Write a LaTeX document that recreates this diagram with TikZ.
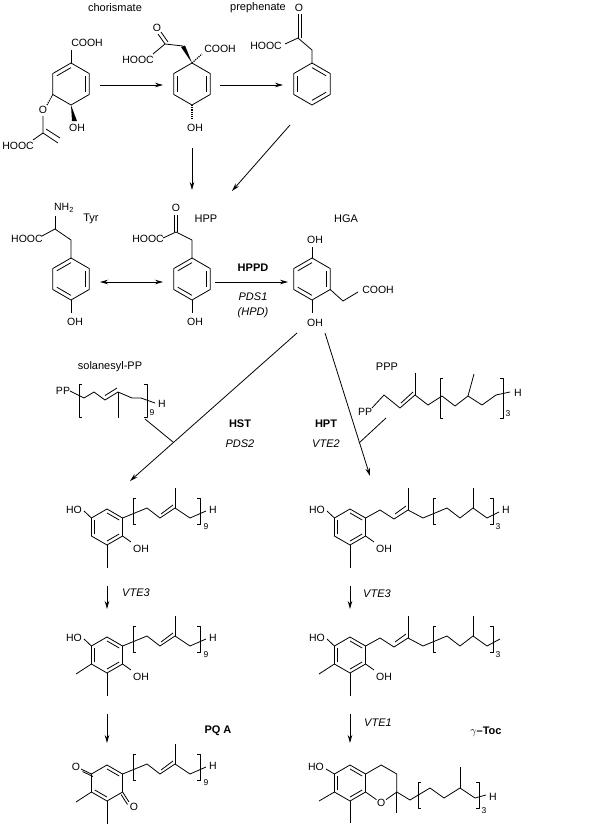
\documentclass[tikz,border=0pt]{standalone}
\usepackage{fontspec}
\setmainfont{Liberation Sans}
\usetikzlibrary{calc,arrows.meta}
\newcommand\ring[4]{%
 \coordinate (#1c) at (#2,#3);
 \coordinate (#1t) at (#2,#3-#4);
 \coordinate (#1b) at (#2,#3+#4);
 \coordinate (#1ur) at (#2+0.866*#4,#3-0.5*#4);
 \coordinate (#1lr) at (#2+0.866*#4,#3+0.5*#4);
 \coordinate (#1ul) at (#2-0.866*#4,#3-0.5*#4);
 \coordinate (#1ll) at (#2-0.866*#4,#3+0.5*#4);
 \draw[bond] (#1t)--(#1ur)--(#1lr)--(#1b)--(#1ll)--(#1ul)--cycle;}
\newcommand\inb[3]{\draw[bond] ($(#1)!0.22!(#3)$) -- ($(#2)!0.22!(#3)$);}
\newcommand\lbr[3]{\draw[bond] (#1+3,#2) -- (#1,#2) -- (#1,#3) -- (#1+3,#3);}
\newcommand\rbr[3]{\draw[bond] (#1-3,#2) -- (#1,#2) -- (#1,#3) -- (#1-3,#3);}
\begin{document}
\begin{tikzpicture}[x=1pt,y=-1pt,
  bond/.style={line width=0.8pt,line join=round},
  arr/.style={line width=0.8pt,-{Stealth[length=8pt,width=4.5pt]}},
  atom/.style={font=\fontsize{10.5}{12}\selectfont,inner sep=0.5pt},
  lab/.style={font=\fontsize{11}{13}\selectfont,inner sep=1pt},
  sub/.style={font=\fontsize{8.5}{9}\selectfont,inner sep=0pt}]
\useasboundingbox (0,0) rectangle (609,828);
% labels
\node[lab] (lchor) at (115,8) {chorismate};
\node[lab] (lpreph) at (258,8) {prephenate};
% chorismate
\ring{A}{71}{84}{21}
\inb{Aur}{Alr}{Ac}\inb{At}{Aul}{Ac}
\node[atom] (cA) at (87,43) {COOH};
\draw[bond] (At)--(71,50);
\draw[line width=1.2pt,densely dotted] (All)--(47,105);
\node[atom] (oA) at (43,110) {O};
\draw[bond] (43,116)--(43,133)--(58,143);
\draw[bond] (46,129)--(60,138);
\node[atom] (hA) at (18,146) {HOOC};
\draw[bond] (43,133)--(33,140);
\fill (Ab)--(72,121)--(77,121)--cycle;
\node[atom] (ohA) at (77,128) {OH};
\draw[arr] (100,85)--(163,85);
% prephenate
\ring{B}{192}{84}{21}
\inb{Bul}{Bll}{Bc}\inb{Bur}{Blr}{Bc}
\fill (Bt)--(181,47)--(185,45.5)--cycle;
\draw[bond] (183,46)--(165,44);
\draw[bond] (165,44)--(158,34);\draw[bond] (168,42)--(161,32);
\node[atom] (oB) at (157,28) {O};
\draw[bond] (165,44)--(153,54);
\node[atom] (hB) at (138,60) {HOOC};
\draw[line width=1.2pt,densely dotted] (Bt)--(202,54);
\node[atom] (cB) at (220,49) {COOH};
\draw[line width=1.2pt,densely dotted] (Bb)--(192,120);
\node[atom] (ohB) at (195,128) {OH};
\draw[arr] (220,85)--(283,85);
% phenylpyruvate
\ring{C}{312}{84}{21}
\inb{Ct}{Cur}{Cc}\inb{Clr}{Cb}{Cc}\inb{Cll}{Cul}{Cc}
\draw[bond] (Ct)--(312,50)--(298,38)--(285,44);
\draw[bond] (298,38)--(298,14);\draw[bond] (301,38)--(301,14);
\node[atom] (oC) at (299,8) {O};
\node[atom] (hC) at (266,46) {HOOC};
\draw[arr] (192,148)--(192,190);
\draw[arr] (290,125)--(232,191);
% Tyr
\ring{D}{71}{279}{21}
\inb{Dur}{Dlr}{Dc}\inb{Db}{Dll}{Dc}\inb{Dul}{Dt}{Dc}
\draw[bond] (Dt)--(71,240)--(55,229)--(42,236);
\draw[bond] (55,229)--(55,216);
\node[atom] (nD) at (64,208) {NH\textsubscript{2}};
\node[lab] (lTyr) at (91,219) {Tyr};
\node[atom] (hD) at (27,239) {HOOC};
\draw[bond] (Db)--(71,313);
\node[atom] (ohD) at (75,322) {OH};
\draw[line width=0.8pt,{Stealth[length=8pt,width=4.5pt]}-{Stealth[length=8pt,width=4.5pt]}] (100,282)--(163,282);
% HPP
\ring{E}{192}{279}{21}
\inb{Eur}{Elr}{Ec}\inb{Eb}{Ell}{Ec}\inb{Eul}{Et}{Ec}
\draw[bond] (Et)--(192,240)--(176,232)--(163,238);
\draw[bond] (174.5,232)--(174.5,215);\draw[bond] (177.5,232)--(177.5,215);
\node[atom] (oE) at (176,208) {O};
\node[atom] (hE) at (148,239) {HOOC};
\node[lab] (lHPP) at (206,219) {HPP};
\draw[bond] (Eb)--(192,313);
\node[atom] (ohE) at (195,322) {OH};
\draw[arr] (215,282)--(288,282);
\node[lab] (lHPPD) at (253,268) {\textbf{HPPD}};
\node[lab] (lPDS1) at (253,297) {\textit{PDS1}};
\node[lab] (lHPD) at (253,313) {\textit{(HPD)}};
% HGA
\ring{F}{312}{279}{21}
\inb{Fur}{Flr}{Fc}\inb{Fb}{Fll}{Fc}\inb{Ful}{Ft}{Fc}
\node[lab] (lHGA) at (346,219) {HGA};
\draw[bond] (Ft)--(312,247);
\node[atom] (ohF1) at (315,240) {OH};
\draw[bond] (Fb)--(312,313);
\node[atom] (ohF2) at (315,323) {OH};
\draw[bond] (Flr)--(343,301)--(358,292);
\node[atom] (cF) at (378,290) {COOH};
% branching
\draw[arr] (297,333)--(130,481);
\draw[arr] (325,333)--(370,476);
\draw[bond] (145,419)--(173,442);
\draw[bond] (386,418)--(359,443);
\node[lab] (lHST) at (240,424) {\textbf{HST}};
\node[lab] (lPDS2) at (240,444) {\textit{PDS2}};
\node[lab] (lHPT) at (326,424) {\textbf{HPT}};
\node[lab] (lVTE2) at (326,444) {\textit{VTE2}};
% solanesyl-PP
\node[lab] (lsol) at (110,367) {solanesyl-PP};
\node[atom] (ppS) at (63,391) {PP};
\draw[bond] (70,391)--(84,398)--(94,392)--(105,400)--(118,392)--(132,398)--(141,398);
\draw[bond] (105,395.5)--(117,388);
\draw[bond] (118,392)--(118,418);
\lbr{79}{384}{417}\rbr{147}{384}{417}
\node[sub] (sS) at (152,413) {9};
\draw[bond] (141,398)--(155,403);
\node[atom] (hS) at (162,404) {H};
% PPP
\node[lab] (lPPP) at (387,367) {PPP};
\node[atom] (ppP) at (365,412) {PP};
\draw[bond] (372,408)--(384,395)--(400,408)--(415,395)--(428,405)--(442,396)--(455,406)--(468,396)--(482,405)--(496,395)--(510,392);
\draw[bond] (401,403)--(413,392);
\draw[bond] (415,395)--(415,373);
\draw[bond] (468,396)--(474,374);
\lbr{440}{378}{418}\rbr{503}{378}{418}
\node[sub] (sP) at (508,414) {3};
\node[atom] (hP) at (518,393) {H};
% ---------- left column ----------
\ring{G}{107}{527}{18}
\inb{Gt}{Gur}{Gc}\inb{Glr}{Gb}{Gc}\inb{Gll}{Gul}{Gc}
\draw[bond] (Gul)--(84,511);\node[atom] (hoG) at (74,510) {HO};
\draw[bond] (Glr)--(131,542);\node[atom] (ohG) at (141,549) {OH};
\draw[bond] (Gb)--(107,568);
\draw[bond] (Gur)--(147,508)--(160,518)--(175,508)--(190,518)--(206,511);
\draw[bond] (161,514)--(173,505);\draw[bond] (175,508)--(175,488);
\lbr{133}{498}{524}\rbr{200}{498}{524}
\node[sub] (sG) at (206,527) {9};\node[atom] (hG) at (213,510) {H};
\draw[arr] (107,586)--(107,609);
\node[lab] (lVTE3a) at (136,593) {\textit{VTE3}};
%
\ring{M}{107}{655}{18}
\inb{Mt}{Mur}{Mc}\inb{Mlr}{Mb}{Mc}\inb{Mll}{Mul}{Mc}
\draw[bond] (Mul)--(84,639);\node[atom] (hoM) at (74,638) {HO};
\draw[bond] (Mlr)--(131,670);\node[atom] (ohM) at (141,677) {OH};
\draw[bond] (Mb)--(107,696);\draw[bond] (Mll)--(76,674);
\draw[bond] (Mur)--(147,636)--(160,646)--(175,636)--(190,646)--(206,639);
\draw[bond] (161,642)--(173,633);\draw[bond] (175,636)--(175,616);
\lbr{133}{626}{652}\rbr{200}{626}{652}
\node[sub] (sM) at (206,655) {9};\node[atom] (hM) at (213,638) {H};
\draw[arr] (107,714)--(107,743);
\node[lab] (lPQA) at (218,731) {\textbf{PQ A}};
%
\ring{Q}{107}{783}{18}
\inb{Qt}{Qur}{Qc}\inb{Qll}{Qb}{Qc}
\draw[bond] (Qul)--(81,769);\draw[bond] ($(Qul)+(1.5,2.5)$)--(82.5,771.5);
\node[atom] (oQ1) at (76,767) {O};
\draw[bond] (Qlr)--(129,802);\draw[bond] ($(Qlr)+(-1.5,2.5)$)--(127.5,804.5);
\node[atom] (oQ2) at (134,807) {O};
\draw[bond] (Qb)--(107,824);\draw[bond] (Qll)--(76,802);
\draw[bond] (Qur)--(147,764)--(160,774)--(175,764)--(190,774)--(206,767);
\draw[bond] (161,770)--(173,761);\draw[bond] (175,764)--(175,744);
\lbr{133}{754}{780}\rbr{200}{754}{780}
\node[sub] (sQ) at (206,783) {9};\node[atom] (hQ) at (213,766) {H};
% ---------- right column ----------
\ring{H}{350}{527}{18}
\inb{Ht}{Hur}{Hc}\inb{Hlr}{Hb}{Hc}\inb{Hll}{Hul}{Hc}
\draw[bond] (Hul)--(327,511);\node[atom] (hoH) at (317,510) {HO};
\draw[bond] (Hlr)--(374,542);\node[atom] (ohH) at (384,549) {OH};
\draw[bond] (Hb)--(350,568);
\draw[bond] (Hur)--(380,510)--(394,519)--(408,510)--(423,518)--(447,508)--(460,518)--(473,508)--(487,518)--(499,512);
\draw[bond] (395,514)--(406,506);\draw[bond] (408,510)--(408,488);\draw[bond] (473,508)--(473,488);
\lbr{433}{498}{524}\rbr{493}{498}{524}
\node[sub] (sH) at (498,527) {3};\node[atom] (hH) at (506,510) {H};
\draw[arr] (350,586)--(350,609);
\node[lab] (lVTE3b) at (377,594) {\textit{VTE3}};
%
\ring{N}{350}{655}{18}
\inb{Nt}{Nur}{Nc}\inb{Nlr}{Nb}{Nc}\inb{Nll}{Nul}{Nc}
\draw[bond] (Nul)--(327,639);\node[atom] (hoN) at (317,638) {HO};
\draw[bond] (Nlr)--(374,670);\node[atom] (ohN) at (384,677) {OH};
\draw[bond] (Nb)--(350,696);\draw[bond] (Nll)--(319,674);
\draw[bond] (Nur)--(380,638)--(394,647)--(408,638)--(423,646)--(447,636)--(460,646)--(473,636)--(487,646)--(500,639);
\draw[bond] (395,642)--(406,634);\draw[bond] (408,638)--(408,616);\draw[bond] (473,636)--(473,616);
\lbr{433}{626}{652}\rbr{493}{626}{652}
\node[sub] (sN) at (498,655) {3};
\draw[arr] (350,714)--(350,743);
\node[lab] (lVTE1) at (378,723) {\textit{VTE1}};
\node[lab] (lToc) at (486,732) {$\gamma$\textbf{--Toc}};
% tocopherol
\ring{J}{350}{783}{18}
\inb{Jt}{Jur}{Jc}\inb{Jlr}{Jb}{Jc}\inb{Jll}{Jul}{Jc}
\coordinate (Kt) at (381.2,765);\coordinate (Kur) at (396.8,774);\coordinate (Klr) at (396.8,792);
\node[atom] (oK) at (381.2,803) {O};
\draw[bond] (Jur)--(Kt)--(Kur)--(Klr)--(oK)--(Jlr);
\draw[bond] (Jul)--(326,769);\node[atom] (hoJ) at (316,767) {HO};
\draw[bond] (Jll)--(319,801);\draw[bond] (Jb)--(350,823);
\draw[bond] (Klr)--(396.8,813);
\draw[bond] (Klr)--(410,800)--(430,788)--(444,798)--(460,788)--(475,798)--(486,795);
\draw[bond] (460,788)--(460,767);
\lbr{418}{782}{808}\rbr{479}{782}{808}
\node[sub] (sJ) at (484,811) {3};\node[atom] (hJ) at (493,797) {H};
\end{tikzpicture}
\end{document}
